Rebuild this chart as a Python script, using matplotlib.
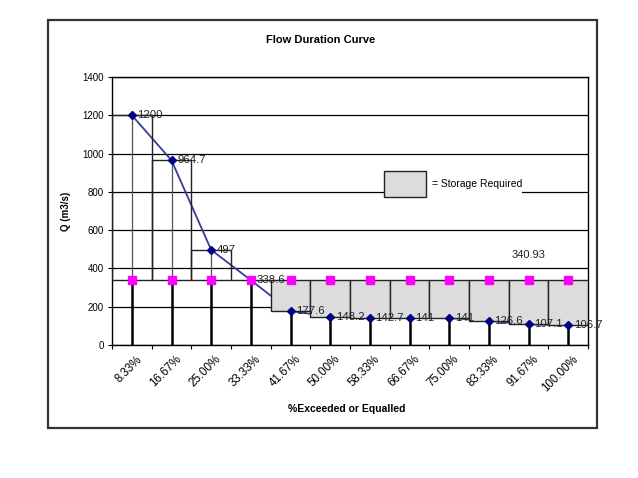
import matplotlib
matplotlib.use("Agg")
import matplotlib.pyplot as plt
from matplotlib.patches import Patch, Rectangle

plt.rcParams['font.family'] = ['Liberation Sans', 'DejaVu Sans']

# data
categories = ["8.33%", "16.67%", "25.00%", "33.33%", "41.67%", "50.00%",
              "58.33%", "66.67%", "75.00%", "83.33%", "91.67%", "100.00%"]
flows = [1200, 964.7, 497, 338.6, 177.6, 148.2, 142.7, 141, 141, 126.6, 107.1, 106.7]
flow_labels = ["1200", "964.7", "497", "338.6", "177.6", "148.2", "142.7",
               "141", "141", "126.6", "107.1", "106.7"]
mean_flow = 340.93
mean_label_index = 10

W, H = 638, 478
fig = plt.figure(figsize=(W / 100, H / 100), dpi=100)

# chart area border
fig.patches.append(Rectangle((48 / W, 1 - 428 / H), 549 / W, 408 / H,
                             transform=fig.transFigure, fill=False,
                             edgecolor="#333333", linewidth=1.6))

ax = fig.add_axes([112 / W, 1 - 345 / H, (588 - 112) / W, (345 - 77) / H])
x = list(range(len(flows)))
means = [mean_flow] * len(flows)

ax.set_xlim(-0.5, len(flows) - 0.5)
ax.set_ylim(0, 1400)
ax.set_yticks(range(0, 1401, 200))
ax.yaxis.grid(True, color="black", linewidth=0.9, zorder=0)
ax.set_axisbelow(True)

# category boundary ticks, labels at centres
ax.set_xticks([i - 0.5 for i in x] + [len(flows) - 0.5])
ax.set_xticklabels([])
ax.set_xticks([i + 0.1 for i in x], minor=True)
ax.set_xticklabels(categories, minor=True, rotation=45, ha="right", va="top",
                   rotation_mode="anchor", fontsize=8.3)
ax.tick_params(axis="x", which="minor", length=0, pad=6)
ax.tick_params(axis="x", which="major", length=3, width=0.8)
ax.tick_params(axis="y", length=3, width=0.8, labelsize=7, pad=3)
for s in ax.spines.values():
    s.set_linewidth(1.0)
    s.set_color("black")

# storage (gray) and surplus (open) boxes
for xi, q in zip(x, flows):
    if q < mean_flow:
        ax.bar(xi, mean_flow - q, bottom=q, width=1.0, color="#dcdcdc",
               edgecolor="#222222", linewidth=1.0, zorder=3)
    else:
        ax.bar(xi, q - mean_flow, bottom=mean_flow, width=1.0, fill=False,
               edgecolor="#222222", linewidth=1.0, zorder=3)

# drop lines and high-low lines
low = [min(q, mean_flow) for q in flows]
ax.vlines(x, 0, low, colors="black", linewidth=1.8, zorder=2)
ax.vlines(x, low, [max(q, mean_flow) for q in flows], colors="#555555",
          linewidth=0.9, zorder=2)

# flow duration curve
ax.plot(x, flows, color="#3a3a9a", linewidth=1.3, zorder=2)
ax.plot(x, flows, linestyle="none", marker="D", markersize=4.5,
        color="#000080", zorder=5)
ax.plot(x, means, linestyle="none", marker="s", markersize=6,
        color="#ff00ff", zorder=5)

for xi, q, lab in zip(x, flows, flow_labels):
    ax.annotate(lab, (xi, q), xytext=(4, 0), textcoords="offset points",
                ha="left", va="center", fontsize=8.2, color="#222222", zorder=6)
ax.annotate(f"{mean_flow:.2f}", (mean_label_index, mean_flow), xytext=(0, 14),
            textcoords="offset points", ha="center", va="bottom",
            fontsize=8, color="#222222")

leg = ax.legend(handles=[Patch(facecolor="#dcdcdc", edgecolor="#222222",
                               linewidth=1.0, label="= Storage Required")],
                loc="center left", bbox_to_anchor=(384 / W, 1 - 184 / H),
                bbox_transform=fig.transFigure, frameon=True, fontsize=7.5,
                handlelength=4.0, handleheight=3.5, handletextpad=0.6,
                borderpad=0.0, borderaxespad=0.0, fancybox=False)
leg.get_frame().set_edgecolor("none")
leg.get_frame().set_facecolor("white")
leg.get_frame().set_alpha(1)
leg.set_zorder(7)

fig.text(321 / W, 1 - 40 / H, "Flow Duration Curve", ha="center", va="center",
         fontsize=8, fontweight="bold")
fig.text(66 / W, 1 - 211 / H, "Q (m3/s)", ha="center", va="center",
         rotation=90, fontsize=7, fontweight="bold")
fig.text(347 / W, 1 - 409 / H, "%Exceeded or Equalled", ha="center",
         va="center", fontsize=7.5, fontweight="bold")

fig.savefig("out.png", dpi=100)
